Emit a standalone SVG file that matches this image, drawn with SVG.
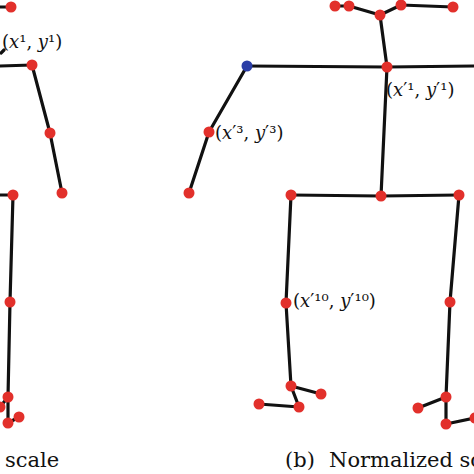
<svg xmlns="http://www.w3.org/2000/svg" width="474" height="474" viewBox="0 0 474 474">
<style>
.ln{stroke:#111;stroke-width:3.2;stroke-linecap:round;fill:none}
.j{fill:#e2302b}
.jb{fill:#2b3ea6}
.lab{font-family:"DejaVu Serif","Liberation Serif",serif;font-size:18px;fill:#111}
.it{font-style:italic}
.cap{font-family:"DejaVu Serif","Liberation Serif",serif;font-size:21px;fill:#111}
</style>
<rect width="474" height="474" fill="#fff"/>
<g id="connectors" class="ln">
<line x1="0" y1="7" x2="11" y2="7"/>
<line x1="0" y1="66" x2="32" y2="65"/>
<line x1="32" y1="65" x2="50" y2="133"/>
<line x1="50" y1="133" x2="62" y2="193"/>
<line x1="0" y1="195" x2="13" y2="195"/>
<line x1="13" y1="195" x2="10" y2="302"/>
<line x1="10" y1="302" x2="8" y2="397"/>
<line x1="8" y1="397" x2="0" y2="407"/>
<line x1="8" y1="397" x2="8" y2="423"/>
<line x1="8" y1="423" x2="19" y2="417"/>
<line x1="1" y1="53" x2="4" y2="50"/>
<line x1="247" y1="66" x2="387" y2="67"/>
<line x1="387" y1="67" x2="474" y2="66"/>
<line x1="247" y1="66" x2="209" y2="132"/>
<line x1="209" y1="132" x2="189" y2="193"/>
<line x1="387" y1="67" x2="380" y2="15"/>
<line x1="380" y1="15" x2="401" y2="5"/>
<line x1="401" y1="5" x2="453" y2="7"/>
<line x1="380" y1="15" x2="349" y2="6"/>
<line x1="349" y1="6" x2="335" y2="6"/>
<line x1="387" y1="67" x2="381" y2="196"/>
<line x1="291" y1="195" x2="381" y2="196"/>
<line x1="381" y1="196" x2="459" y2="195"/>
<line x1="291" y1="195" x2="286" y2="303"/>
<line x1="286" y1="303" x2="291" y2="386"/>
<line x1="291" y1="386" x2="299" y2="407"/>
<line x1="299" y1="407" x2="259" y2="404"/>
<line x1="291" y1="386" x2="321" y2="394"/>
<line x1="459" y1="195" x2="450" y2="302"/>
<line x1="450" y1="302" x2="446" y2="397"/>
<line x1="446" y1="397" x2="418" y2="408"/>
<line x1="446" y1="397" x2="446" y2="424"/>
<line x1="446" y1="424" x2="475" y2="418"/>
</g>
<g id="left-figure">
<g id="a-top"><circle class="j" cx="11" cy="7" r="5.5"/></g>
<g id="a-shoulder"><circle class="j" cx="32" cy="65" r="5.5"/></g>
<g id="a-elbow"><circle class="j" cx="50" cy="133" r="5.5"/></g>
<g id="a-wrist"><circle class="j" cx="62" cy="193" r="5.5"/></g>
<g id="a-hip"><circle class="j" cx="13" cy="195" r="5.5"/></g>
<g id="a-knee"><circle class="j" cx="10" cy="302" r="5.5"/></g>
<g id="a-ankle"><circle class="j" cx="8" cy="397" r="5.5"/></g>
<g id="a-foot1"><circle class="j" cx="0" cy="407" r="5.5"/></g>
<g id="a-foot2"><circle class="j" cx="8" cy="423" r="5.5"/></g>
<g id="a-foot3"><circle class="j" cx="19" cy="417" r="5.5"/></g>
<g id="a-label"><text class="lab" x="2" y="48">(<tspan class="it">x</tspan>¹, <tspan class="it">y</tspan>¹)</text></g>
<g id="a-caption"><text class="cap" x="5" y="467">scale</text></g>
</g>
<g id="right-figure">
<g id="b-neck-blue"><circle class="jb" cx="247" cy="66" r="5.5"/></g>
<g id="b-neck"><circle class="j" cx="387" cy="67" r="5.5"/>
<text class="lab" x="386" y="96">(<tspan class="it">x</tspan>′¹, <tspan class="it">y</tspan>′¹)</text></g>
<g id="b-elbow"><circle class="j" cx="209" cy="132" r="5.5"/>
<text class="lab" x="215" y="139">(<tspan class="it">x</tspan>′³, <tspan class="it">y</tspan>′³)</text></g>
<g id="b-wrist"><circle class="j" cx="189" cy="193" r="5.5"/></g>
<g id="b-nose"><circle class="j" cx="380" cy="15" r="5.5"/></g>
<g id="b-eye1"><circle class="j" cx="401" cy="5" r="5.5"/></g>
<g id="b-ear1"><circle class="j" cx="453" cy="7" r="5.5"/></g>
<g id="b-eye2"><circle class="j" cx="349" cy="6" r="5.5"/></g>
<g id="b-ear2"><circle class="j" cx="335" cy="6" r="5.5"/></g>
<g id="b-midhip"><circle class="j" cx="381" cy="196" r="5.5"/></g>
<g id="b-lhip"><circle class="j" cx="291" cy="195" r="5.5"/></g>
<g id="b-rhip"><circle class="j" cx="459" cy="195" r="5.5"/></g>
<g id="b-lknee"><circle class="j" cx="286" cy="303" r="5.5"/>
<text class="lab" x="293" y="307">(<tspan class="it">x</tspan>′¹⁰, <tspan class="it">y</tspan>′¹⁰)</text></g>
<g id="b-rknee"><circle class="j" cx="450" cy="302" r="5.5"/></g>
<g id="b-lankle"><circle class="j" cx="291" cy="386" r="5.5"/></g>
<g id="b-lheel"><circle class="j" cx="299" cy="407" r="5.5"/></g>
<g id="b-ltoe"><circle class="j" cx="259" cy="404" r="5.5"/></g>
<g id="b-ltoe2"><circle class="j" cx="321" cy="394" r="5.5"/></g>
<g id="b-rankle"><circle class="j" cx="446" cy="397" r="5.5"/></g>
<g id="b-rtoe"><circle class="j" cx="418" cy="408" r="5.5"/></g>
<g id="b-rheel"><circle class="j" cx="446" cy="424" r="5.5"/></g>
<g id="b-rtoe2"><circle class="j" cx="475" cy="418" r="5.5"/></g>
<g id="b-caption"><text class="cap" x="285" y="467">(b)</text><text class="cap" x="329" y="467">Normalized sc</text></g>
</g>
</svg>
